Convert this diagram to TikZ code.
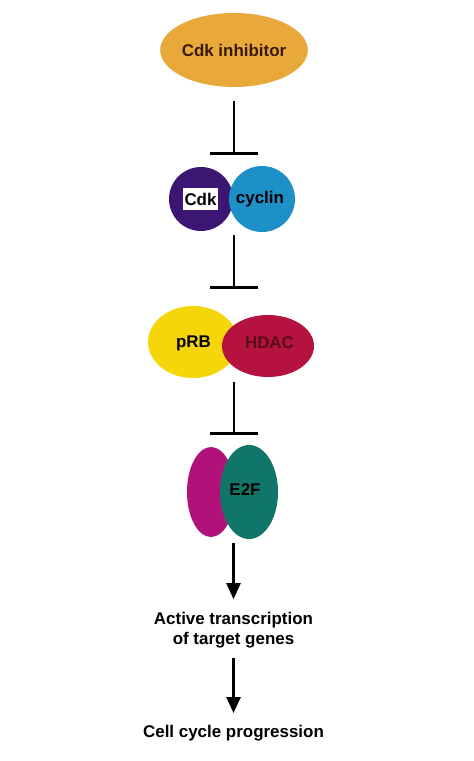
\documentclass[tikz,border=0pt]{standalone}
\usepackage{fontspec}
\setmainfont{Liberation Sans}
\usetikzlibrary{shapes.geometric,arrows.meta}
\definecolor{cinh}{HTML}{E9A93A}
\definecolor{cinhtxt}{HTML}{3A1A0C}
\definecolor{ccdk}{HTML}{3B1773}
\definecolor{ccyc}{HTML}{1E90C8}
\definecolor{cprb}{HTML}{F5D60A}
\definecolor{chdac}{HTML}{B5123F}
\definecolor{chdactxt}{HTML}{5A0A1E}
\definecolor{cmag}{HTML}{B0127A}
\definecolor{cteal}{HTML}{11756A}
\tikzset{
  lbl/.style={font=\fontsize{17}{19.5}\selectfont\bfseries},
  blob/.style={ellipse, inner sep=0pt, lbl},
  inhibit/.style={line width=2.5bp, -{Bar[width=48bp]}},
  act/.style={line width=2.5bp, -{Triangle[width=14bp,length=16bp]}},
  txt/.style={lbl, align=center, inner sep=0pt}
}
\begin{document}
\begin{tikzpicture}[x=1bp,y=-1bp]
\useasboundingbox (0,0) rectangle (474,761);
% Cdk inhibitor
\node[blob, fill=cinh, text=cinhtxt, minimum width=125bp, minimum height=74bp] (inhib) at (234,50) {Cdk inhibitor};
% Cdk / cyclin
\node[circle, fill=ccdk, minimum size=64bp, inner sep=0pt] (cdk) at (201,199) {};
\node[circle, fill=ccyc, minimum size=66bp, inner sep=0pt] (cyc) at (262,199) {};
\node[lbl, fill=white, inner sep=0pt, minimum width=35bp, minimum height=22bp] (cdkt) at (200.5,199) {Cdk};
\node[lbl] (cyct) at (260,199) {cyclin};
% pRB / HDAC
\node[ellipse, fill=cprb, minimum width=90bp, minimum height=72bp, inner sep=0pt] (prb) at (193,342) {};
\node[ellipse, fill=chdac, minimum width=92bp, minimum height=62bp, inner sep=0pt] (hdac) at (268,346) {};
\node[lbl] (prbt) at (193.5,343) {pRB};
\node[lbl, text=chdactxt] (hdact) at (269.5,343) {HDAC};
% E2F complex
\node[ellipse, fill=cmag, minimum width=48bp, minimum height=90bp, inner sep=0pt] (mag) at (211,492) {};
\node[ellipse, fill=cteal, minimum width=58bp, minimum height=94bp, inner sep=0pt] (e2f) at (249,492) {};
\node[lbl] (e2ft) at (245,490) {E2F};
% texts
\node[txt] (actx) at (233.5,630) {Active transcription\\of target genes};
\node[txt, anchor=base] (cell) at (233.5,737.5) {Cell cycle progression};
% connectors
\draw[inhibit, shorten <=14bp, shorten >=12bp] (inhib.south) -- (cdk.north -| inhib.south);
\draw[inhibit, shorten <=4bp, shorten >=17bp] (cdk.south -| inhib.south) -- (prb.north -| inhib.south);
\draw[inhibit, shorten <=5bp, shorten >=10bp] (hdac.south -| inhib.south) -- (e2f.north -| inhib.south);
\draw[act, shorten <=4bp, shorten >=13bp] (e2f.south -| actx.north) -- (actx.north);
\draw[act, shorten <=10bp, shorten >=12bp] (actx.south) -- (cell.north);
\end{tikzpicture}
\end{document}
